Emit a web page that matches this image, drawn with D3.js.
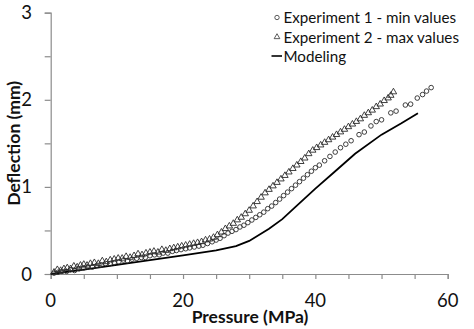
<!DOCTYPE html>
<html><head><meta charset="utf-8">
<script src="https://cdn.jsdelivr.net/npm/d3@7"></script>
<style>body{margin:0;background:#fff}svg{display:block}</style>
</head><body>
<script>
const xTicks = [0, 20, 40, 60];
const yTicks = [0, 1, 2, 3];
const seriesNames = ["Experiment 1 - min values", "Experiment 2 - max values", "Modeling"];

const exp1P = [0.5,1.1,1.7,2.4,3.0,3.6,4.3,5.0,5.6,6.3,7.0,7.6,8.3,9.0,9.6,10.3,11.0,11.6,12.3,13.0,13.7,14.3,15.0,15.7,16.4,17.0,17.7,18.4,19.0,19.7,20.4,21.0,21.7,22.4,23.0,23.7,24.4,25.0,25.6,26.2,26.8,27.4,28.0,28.6,29.2,29.8,30.4,31.0,31.6,32.2,32.8,33.4,34.0,34.6,35.2,35.8,36.4,37.0,37.6,38.2,38.8,39.4,40.0,40.6,41.4,42.2,43.0,43.8,44.6,45.4,46.6,47.4,48.4,49.2,50.0,51.4,52.2,53.6,54.4,55.4,56.2,56.8,57.5];
const exp1D = [0.01,0.02,0.03,0.03,0.05,0.04,0.06,0.07,0.08,0.08,0.10,0.10,0.12,0.12,0.13,0.14,0.16,0.15,0.17,0.18,0.19,0.19,0.21,0.22,0.22,0.24,0.24,0.26,0.27,0.28,0.29,0.30,0.31,0.32,0.33,0.35,0.37,0.39,0.41,0.44,0.47,0.49,0.51,0.54,0.56,0.59,0.62,0.65,0.68,0.71,0.75,0.78,0.82,0.86,0.90,0.94,0.98,1.02,1.06,1.10,1.14,1.18,1.22,1.25,1.30,1.35,1.40,1.45,1.49,1.53,1.60,1.63,1.70,1.75,1.77,1.85,1.87,1.94,1.95,2.02,2.06,2.10,2.14];

const exp2P = [0.5,1.0,1.5,2.0,2.5,3.0,3.5,4.0,4.5,5.0,5.5,6.0,6.6,7.2,7.8,8.4,9.0,9.6,10.2,10.8,11.4,12.0,12.6,13.2,13.8,14.4,15.0,15.6,16.2,16.8,17.4,18.0,18.6,19.2,19.8,20.4,21.0,21.6,22.2,22.8,23.4,24.0,24.6,25.2,25.8,26.4,27.0,27.6,28.2,28.8,29.4,30.0,30.6,31.2,31.8,32.4,33.0,33.6,34.2,34.8,35.4,36.0,36.6,37.2,37.8,38.4,39.0,39.6,40.2,40.8,41.4,42.0,42.6,43.2,43.8,44.4,45.0,45.6,46.2,46.8,47.4,48.0,48.6,49.2,49.8,50.4,51.0,51.4,51.8];
const exp2D = [0.02,0.05,0.04,0.06,0.07,0.06,0.09,0.08,0.10,0.11,0.10,0.12,0.13,0.12,0.15,0.14,0.16,0.17,0.18,0.18,0.20,0.19,0.21,0.23,0.22,0.24,0.25,0.26,0.25,0.28,0.27,0.29,0.30,0.31,0.32,0.33,0.34,0.35,0.36,0.37,0.39,0.40,0.42,0.45,0.48,0.52,0.55,0.58,0.62,0.65,0.69,0.73,0.78,0.83,0.88,0.93,0.97,1.01,1.05,1.09,1.13,1.17,1.21,1.25,1.29,1.33,1.38,1.42,1.45,1.48,1.51,1.54,1.57,1.60,1.63,1.66,1.69,1.72,1.75,1.78,1.82,1.85,1.88,1.92,1.95,1.99,2.02,2.05,2.09];

const modelP = [0,5,10,15,20,25,28,30,33,35,37,40,43,46,50,53,55.5];
const modelD = [0,0.05,0.105,0.16,0.215,0.27,0.32,0.38,0.52,0.63,0.77,0.98,1.18,1.38,1.6,1.73,1.845];

const W = 474, H = 329;
const m = {left: 50.7, right: W - 447.7, top: 12.7, bottom: H - 274};
const svg = d3.select("body").append("svg").attr("width", W).attr("height", H);
const x = d3.scaleLinear().domain([0, 60]).range([m.left, W - m.right]);
const y = d3.scaleLinear().domain([0, 3]).range([H - m.bottom, m.top]);
const font = "Lato, 'Open Sans', sans-serif";
const axisColor = "#8c8c8c";

// x axis
const xa = svg.append("g").attr("transform", `translate(0,${y(0)})`)
  .call(d3.axisBottom(x).tickValues(d3.range(0, 61, 5)).tickSize(5).tickFormat(""));
xa.select(".domain").attr("stroke", axisColor).attr("stroke-width", 1.2);
xa.selectAll(".tick line").attr("stroke", axisColor).attr("stroke-width", 1.2);
svg.append("g").selectAll("text").data(xTicks).join("text")
  .attr("x", d => x(d)).attr("y", 306.5).attr("text-anchor", "middle")
  .attr("font-family", font).attr("font-size", 18.5).attr("fill", "#111").text(d => d);

// y axis
const ya = svg.append("g").attr("transform", `translate(${x(0)},0)`)
  .call(d3.axisLeft(y).tickValues(d3.range(0, 3.01, 0.5)).tickSize(6).tickFormat(""));
ya.select(".domain").attr("stroke", axisColor).attr("stroke-width", 1.2);
ya.selectAll(".tick line").attr("stroke", axisColor).attr("stroke-width", 1.2);
svg.append("g").selectAll("text").data(yTicks).join("text")
  .attr("x", 32).attr("y", d => y(d) + 6.5).attr("text-anchor", "end")
  .attr("font-family", font).attr("font-size", 18.5).attr("fill", "#111").text(d => d);

// axis titles
svg.append("text").attr("x", 250).attr("y", 323).attr("text-anchor", "middle")
  .attr("font-family", font).attr("font-weight", "bold").attr("font-size", 17.5)
  .attr("fill", "#111").text("Pressure (MPa)");
svg.append("text").attr("transform", `translate(20,${(y(0)+y(3))/2}) rotate(-90)`)
  .attr("text-anchor", "middle").attr("font-family", font).attr("font-weight", "bold")
  .attr("font-size", 17.5).attr("fill", "#111").text("Deflection (mm)");

// model line
const line = d3.line().x(d => x(d[0])).y(d => y(d[1]));
svg.append("path").datum(d3.zip(modelP, modelD)).attr("d", line)
  .attr("fill", "none").attr("stroke", "#000").attr("stroke-width", 1.8);

// exp2 triangles
const tri = d3.symbol().type(d3.symbolTriangle).size(18);
svg.append("g").selectAll("path").data(d3.zip(exp2P, exp2D)).join("path")
  .attr("d", tri).attr("transform", d => `translate(${x(d[0])},${y(d[1])})`)
  .attr("fill", "none").attr("stroke", "#2a2a2a").attr("stroke-width", 0.9);

// exp1 circles
svg.append("g").selectAll("circle").data(d3.zip(exp1P, exp1D)).join("circle")
  .attr("cx", d => x(d[0])).attr("cy", d => y(d[1])).attr("r", 2.3)
  .attr("fill", "none").attr("stroke", "#2a2a2a").attr("stroke-width", 0.9);

// legend
const lg = svg.append("g");
const ly = [17.5, 37, 56];
lg.append("circle").attr("cx", 277).attr("cy", ly[0]).attr("r", 2.2)
  .attr("fill", "none").attr("stroke", "#333").attr("stroke-width", 0.8);
lg.append("path").attr("d", d3.symbol().type(d3.symbolTriangle).size(14))
  .attr("transform", `translate(277,${ly[1]})`).attr("fill", "none").attr("stroke", "#333").attr("stroke-width", 0.8);
lg.append("line").attr("x1", 271.5).attr("x2", 282).attr("y1", ly[2]).attr("y2", ly[2])
  .attr("stroke", "#000").attr("stroke-width", 1.6);
lg.selectAll("text").data(seriesNames).join("text")
  .attr("x", 283.5).attr("y", (d, i) => ly[i] + 5.5)
  .attr("font-family", font).attr("font-size", 15.2).attr("fill", "#111").text(d => d);
</script>
</body></html>
